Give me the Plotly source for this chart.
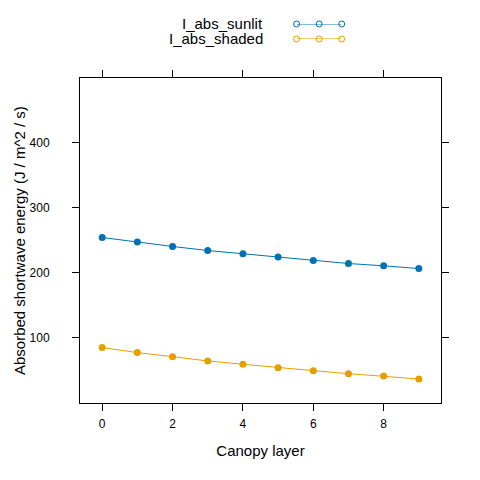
import plotly.graph_objects as go

layers = list(range(10))
sunlit = [254.3, 247.2, 240.5, 234.3, 229.2, 224.2, 219.0, 214.3, 210.8, 206.6]
shaded = [85.1, 77.4, 71.2, 64.6, 59.5, 54.3, 49.7, 45.1, 41.5, 36.9]
series_names = ["I_abs_sunlit", "I_abs_shaded"]
series_colors = ["#0072B2", "#E69F00"]
y_ticks = [100, 200, 300, 400]
x_ticks = [0, 2, 4, 6, 8]

FONT = "Liberation Sans, Arial, sans-serif"

fig = go.Figure()

# data lines with filled points
for name, vals, col in zip(series_names, [sunlit, shaded], series_colors):
    fig.add_trace(go.Scatter(
        x=layers, y=vals, mode="lines+markers", name=name,
        line=dict(color=col, width=1),
        marker=dict(color=col, size=7, symbol="circle"),
        showlegend=False,
    ))

# lattice style key above the panel: text then line with three open circles
for i, (name, col) in enumerate(zip(series_names, series_colors)):
    fig.add_trace(go.Scatter(
        x=[0, 1, 2], y=[i] * 3, mode="lines+markers",
        xaxis="x2", yaxis="y2", cliponaxis=False, showlegend=False,
        line=dict(color=col, width=1),
        marker=dict(color=col, size=6, symbol="circle-open", line=dict(width=1)),
        hoverinfo="skip",
    ))
    fig.add_annotation(
        text=name, xref="paper", yref="y2", x=0.5125, y=i,
        xanchor="right", yanchor="middle", showarrow=False,
        font=dict(size=15, color="black", family=FONT),
    )

axis_common = dict(
    showline=True, linecolor="black", linewidth=1, mirror="ticks",
    ticks="outside", ticklen=7, tickcolor="black", tickwidth=1,
    showgrid=False, zeroline=False,
    tickfont=dict(size=12, color="black", family=FONT),
)

# page body has an 8px margin, so the figure is a bit smaller than the window
fig.update_layout(
    width=464, height=464,
    margin=dict(l=71.7, r=30.7, t=2, b=68.7),
    paper_bgcolor="white", plot_bgcolor="white",
    font=dict(family=FONT, color="black"),
    xaxis=dict(
        range=[-0.63, 9.63], tickvals=x_ticks, ticklabelstandoff=3,
        title=dict(text="Canopy layer", font=dict(size=15, color="black"), standoff=15),
        **axis_common,
    ),
    yaxis=dict(
        range=[0, 499], tickvals=y_ticks, domain=[0, 0.8264], ticklabelstandoff=20,
        title=dict(text="Absorbed shortwave energy (J / m^2 / s)",
                   font=dict(size=15, color="black"), standoff=0),
        **axis_common,
    ),
    xaxis2=dict(domain=[0.600, 0.725], range=[0, 2], visible=False, anchor="y2"),
    yaxis2=dict(domain=[0.9263, 0.9644], range=[1, 0], visible=False, anchor="x2"),
)

fig.write_html("out.html")
